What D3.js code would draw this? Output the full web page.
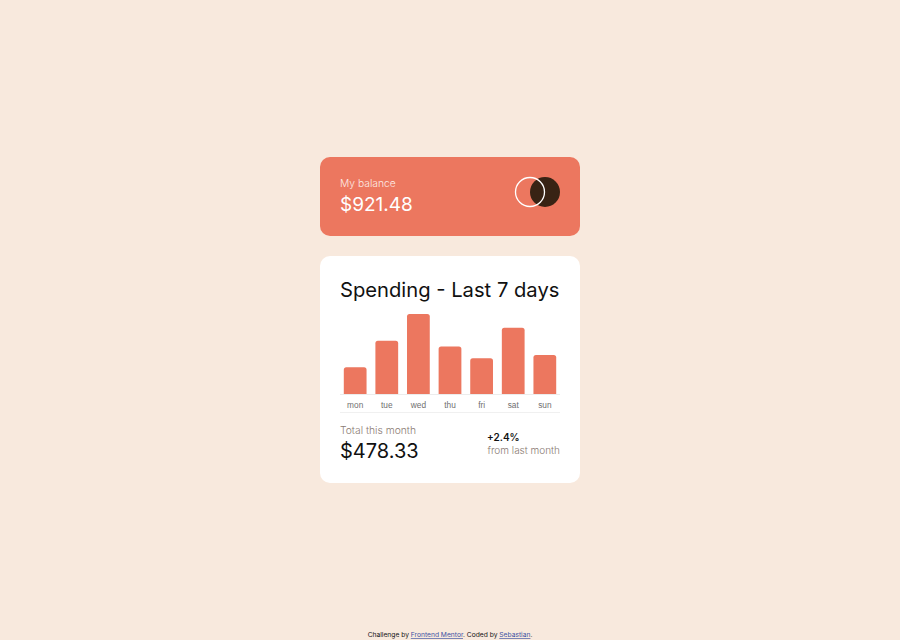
<!DOCTYPE html>
<html>
<head>
<meta charset="utf-8">
<script src="https://cdn.jsdelivr.net/npm/d3@7"></script>
<style>
  html, body { margin: 0; padding: 0; background: #f8e9dd; }
  svg { display: block; }
</style>
</head>
<body>
<div id="chart"></div>
<script>
var days = ["mon", "tue", "wed", "thu", "fri", "sat", "sun"];
var amounts = [17.45, 34.91, 52.36, 31.07, 23.39, 43.28, 25.48];
var balance = "$921.48";
var total = "$478.33";
var change = "+2.4%";

var W = 900, H = 640;
var FONT = "Inter, 'Open Sans', sans-serif";
var svg = d3.select("#chart").append("svg").attr("width", W).attr("height", H);

svg.append("rect").attr("width", W).attr("height", H).attr("fill", "#f8e9dd");

// balance card
var balCard = svg.append("g").attr("transform", "translate(320,157)");
balCard.append("rect").attr("width", 260).attr("height", 79).attr("rx", 10).attr("fill", "#ec775f");
balCard.append("text").attr("x", 20).attr("y", 30).attr("fill", "#fdebe5")
    .style("font", "300 10.3px " + FONT).text("My balance");
balCard.append("text").attr("x", 20).attr("y", 53.5).attr("fill", "#fff")
    .style("font", "400 19px " + FONT).text(balance);
balCard.append("circle").attr("cx", 225).attr("cy", 35).attr("r", 15).attr("fill", "#382314");
balCard.append("circle").attr("cx", 210).attr("cy", 35).attr("r", 14.5)
    .attr("fill", "none").attr("stroke", "#fff").attr("stroke-width", 1.3);

// spending card
var card = svg.append("g").attr("transform", "translate(320,256)");
card.append("rect").attr("width", 260).attr("height", 227).attr("rx", 10).attr("fill", "#fff");
card.append("text").attr("x", 20).attr("y", 41).attr("fill", "#111")
    .style("font", "400 20.2px " + FONT).text("Spending - Last 7 days");

var x = d3.scaleBand().domain(days).range([20, 240]).paddingInner(0.28).paddingOuter(0.12);
var y = d3.scaleLinear().domain([0, 52.36]).range([138, 58]);

var chart = card.append("g");
chart.append("line").attr("x1", 20).attr("x2", 240).attr("y1", 138.5).attr("y2", 138.5)
    .attr("stroke", "#ececec");
chart.append("line").attr("x1", 20).attr("x2", 240).attr("y1", 156.5).attr("y2", 156.5)
    .attr("stroke", "#f0f0f0");

chart.selectAll("path.bar").data(amounts).enter().append("path")
    .attr("class", "bar")
    .attr("fill", "#ec775f")
    .attr("d", function (d, i) {
        var x0 = x(days[i]), w = x.bandwidth(), y0 = y(d), r = 2.5, b = y(0);
        return "M" + x0 + "," + b + "V" + (y0 + r) + "Q" + x0 + "," + y0 + " " + (x0 + r) + "," + y0 +
            "H" + (x0 + w - r) + "Q" + (x0 + w) + "," + y0 + " " + (x0 + w) + "," + (y0 + r) + "V" + b + "Z";
    });

var xAxis = d3.axisBottom(x).tickSize(0).tickPadding(8);
var ax = chart.append("g").attr("transform", "translate(0,138)").call(xAxis);
ax.select(".domain").remove();
ax.selectAll("text").attr("fill", "#6f6f6f")
    .style("font", "8.3px 'Liberation Sans', Arial, sans-serif");

card.append("text").attr("x", 20).attr("y", 178).attr("fill", "#8a7b73")
    .style("font", "300 10.3px " + FONT).text("Total this month");
card.append("text").attr("x", 20).attr("y", 201.5).attr("fill", "#111")
    .style("font", "400 20px " + FONT).text(total);
card.append("text").attr("x", 167).attr("y", 185).attr("fill", "#111")
    .style("font", "600 10px " + FONT).text(change);
card.append("text").attr("x", 240).attr("y", 198).attr("text-anchor", "end").attr("fill", "#8a7b73")
    .style("font", "300 10px " + FONT).text("from last month");

// footer
var foot = svg.append("text").attr("x", 450).attr("y", 637).attr("text-anchor", "middle")
    .attr("fill", "#111").style("font", "6.7px " + FONT);
foot.append("tspan").text("Challenge by ");
foot.append("tspan").attr("fill", "#3e52a3").attr("text-decoration", "underline").text("Frontend Mentor");
foot.append("tspan").text(". Coded by ");
foot.append("tspan").attr("fill", "#3e52a3").attr("text-decoration", "underline").text("Sebastian");
foot.append("tspan").text(".");
</script>
</body>
</html>
